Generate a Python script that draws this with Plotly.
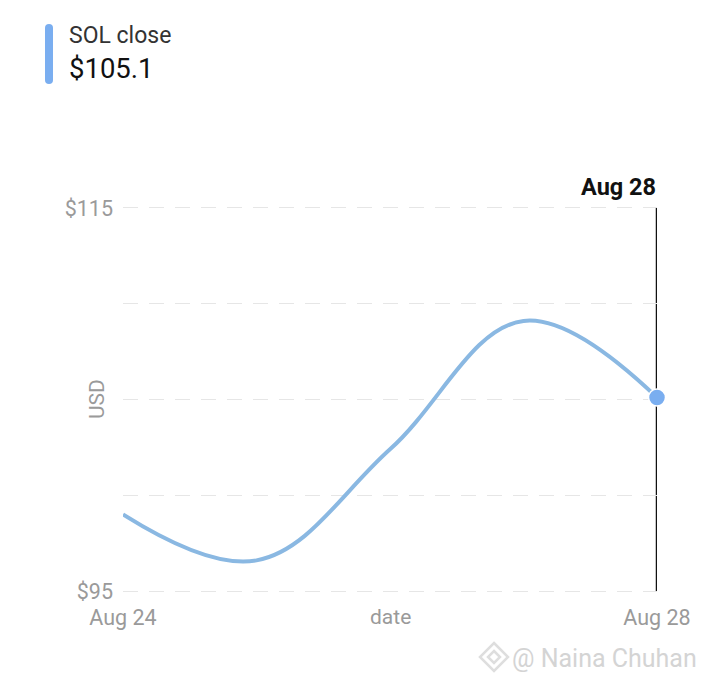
import plotly.graph_objects as go

dates = ["2023-08-24", "2023-08-25", "2023-08-26", "2023-08-27", "2023-08-28"]
close = [99.0, 96.6, 102.4, 109.1, 105.1]

x_ticks = ["2023-08-24", "2023-08-28"]
x_labels = ["Aug 24", "Aug 28"]
y_ticks = [95, 100, 105, 110, 115]
y_labels = ["$95", "", "", "", "$115"]

LINE = "#8ab8e2"
DOT = "#7aaef0"
GREY = "#9a9a9a"
FONT = "Roboto"

# plot area in page pixels
LEFT, RIGHT, TOP, BOTTOM = 123, 657, 206, 593

fig = go.Figure()

fig.add_trace(
    go.Scatter(
        x=dates,
        y=close,
        mode="lines",
        line=dict(color=LINE, width=4, shape="spline", smoothing=1.1),
        hoverinfo="skip",
        showlegend=False
    )
)

# highlighted last point
fig.add_trace(
    go.Scatter(
        x=dates[-1:],
        y=close[-1:],
        mode="markers",
        marker=dict(color=DOT, size=17, line=dict(color="white", width=1.5)),
        cliponaxis=False,
        hoverinfo="skip",
        showlegend=False
    )
)

fig.add_shape(
    type="line", layer="below", xref="x", yref="y",
    x0=dates[-1], x1=dates[-1], y0=y_ticks[0], y1=y_ticks[-1],
    line=dict(color="#111111", width=2.5)
)

anchor_x = -LEFT / (RIGHT - LEFT)
anchor_y = 1 + TOP / (BOTTOM - TOP)

# legend bar
fig.add_shape(
    type="path", xref="paper", yref="paper",
    xsizemode="pixel", ysizemode="pixel",
    xanchor=anchor_x, yanchor=anchor_y,
    path="M 45 -28 Q 45 -24 49 -24 Q 53 -24 53 -28 L 53 -80 Q 53 -84 49 -84 Q 45 -84 45 -80 Z",
    fillcolor=DOT, line=dict(width=0)
)

# watermark logo
for path in [
    "M 494 -643 L 508 -657 L 494 -671 L 480 -657 Z",
    "M 494 -651 L 500 -657 L 494 -663 L 488 -657 Z",
]:
    fig.add_shape(
        type="path", xref="paper", yref="paper",
        xsizemode="pixel", ysizemode="pixel",
        xanchor=anchor_x, yanchor=anchor_y,
        path=path, fillcolor="rgba(0,0,0,0)",
        line=dict(color="#dedede", width=2.5)
    )


def px_note(text, x, y, size, color, xanchor="left", weight="normal", angle=0):
    fig.add_annotation(
        text=text,
        xref="paper", yref="paper",
        x=(x - LEFT) / (RIGHT - LEFT),
        y=(BOTTOM - y) / (BOTTOM - TOP),
        xanchor=xanchor, yanchor="middle",
        showarrow=False,
        textangle=angle,
        font=dict(family=FONT, size=size, color=color, weight=weight)
    )


px_note("SOL close", 67, 35, 23, "#333333")
px_note("$105.1", 67, 68, 27.5, "#111111")
px_note("Aug 28", 618, 187, 23.5, "#111111", xanchor="center", weight="bold")
px_note("date", 390, 617, 21, GREY, xanchor="center")
px_note("USD", 97, 399, 21, GREY, xanchor="center", angle=-90)
px_note("@ Naina Chuhan", 510, 658, 25, "#d4d4d4")

fig.update_layout(
    width=704,
    height=683,
    margin=dict(l=LEFT, r=704 - RIGHT, t=TOP, b=683 - BOTTOM),
    paper_bgcolor="white",
    plot_bgcolor="white",
    font=dict(family=FONT, size=21.5, color=GREY),
    xaxis=dict(
        range=[dates[0], dates[-1]],
        tickvals=x_ticks,
        ticktext=x_labels,
        showgrid=False,
        zeroline=False,
        showline=False,
        ticks="",
        ticklabelstandoff=9
    ),
    yaxis=dict(
        # a bit past the ticks, plotly drops grid lines that sit right on the edge
        range=[y_ticks[0] - 0.104, y_ticks[-1] + 0.104],
        tickvals=y_ticks,
        ticktext=y_labels,
        showgrid=True,
        gridcolor="#e6e6e6",
        gridwidth=1,
        griddash="15px,11px",
        zeroline=False,
        showline=False,
        ticks="",
        ticklabelstandoff=9
    )
)

fig.write_html(
    "out.html",
    config=dict(displayModeBar=False),
    post_script="document.body.style.margin='0';"
)
